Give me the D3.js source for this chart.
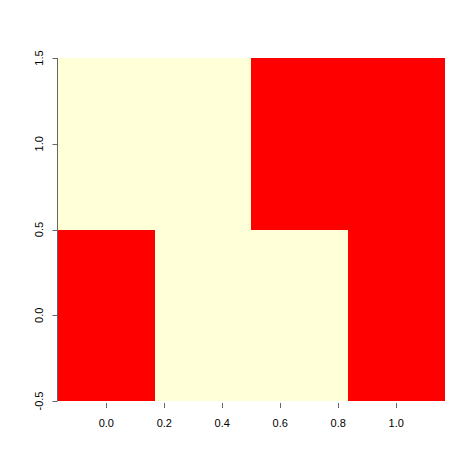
<!DOCTYPE html>
<html><head><meta charset="utf-8">
<script src="https://cdn.jsdelivr.net/npm/d3@7"></script>
<style>body{margin:0;background:#fff}svg{display:block}text{font-family:"Liberation Sans",Arial,sans-serif;font-size:11px;fill:#000}</style>
</head><body><svg id="c" width="474" height="474"></svg>
<script>
const xCenters = [0, 1/3, 2/3, 1];
const yCenters = [0, 1];
const values = [
  [1, 0, 0, 1],
  [0, 0, 1, 1]
];
const xTicks = [0, 0.2, 0.4, 0.6, 0.8, 1.0];
const yTicks = [-0.5, 0, 0.5, 1.0, 1.5];
const palette = ["#FFFFD8", "#FF0000"];
const fmt = t => d3.format(".1f")(t).replace("\u2212", "-");

const svg = d3.select("#c");
const x = d3.scaleLinear().domain([-1/6, 7/6]).range([58, 444.5]);
const y = d3.scaleLinear().domain([-0.5, 1.5]).range([401, 58]);
const dx = 1/3, dy = 1;
const cells = [];
yCenters.forEach((yc, i) => xCenters.forEach((xc, j) => cells.push({xc, yc, v: values[i][j]})));
svg.selectAll("rect.cell").data(cells).enter().append("rect")
  .attr("x", d => x(d.xc - dx/2)).attr("y", d => y(d.yc + dy/2))
  .attr("width", d => x(d.xc + dx/2) - x(d.xc - dx/2))
  .attr("height", d => y(d.yc - dy/2) - y(d.yc + dy/2))
  .attr("fill", d => palette[d.v]).attr("shape-rendering", "crispEdges");

// y axis
const ya = svg.append("g").attr("transform", "translate(57.5,0)");
ya.append("line").attr("x1",0).attr("x2",0).attr("y1",y(-0.5)).attr("y2",y(1.5)).attr("stroke","#666");
yTicks.forEach(t => {
  ya.append("line").attr("x1",-5).attr("x2",0).attr("y1",Math.round(y(t))+0.5).attr("y2",Math.round(y(t))+0.5).attr("stroke","#666");
  ya.append("text").attr("transform",`translate(-18,${y(t)}) rotate(-90)`).attr("text-anchor","middle").attr("dy","0.35em").text(fmt(t));
});
// x axis (ticks only)
const xa = svg.append("g");
xTicks.forEach(t => {
  const px = Math.round(x(t)) + 0.5;
  xa.append("line").attr("x1",px).attr("x2",px).attr("y1",403).attr("y2",408).attr("stroke","#666");
  xa.append("text").attr("x",x(t)).attr("y",423).attr("text-anchor","middle").attr("dy","0.35em").text(fmt(t));
});
</script></body></html>
